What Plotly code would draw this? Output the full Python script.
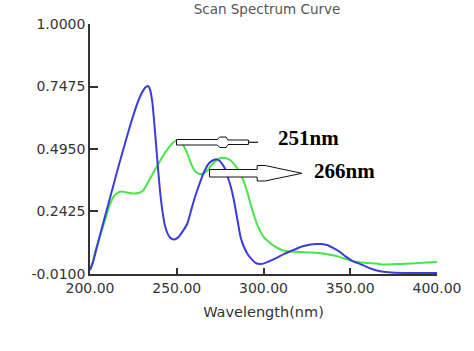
import plotly.graph_objects as go

# ---- data ----
blue_nm = [200.0, 201.7, 203.4, 205.6, 208.4, 211.2, 214.0, 216.8, 219.6, 222.4, 225.2, 228.0,
           230.8, 232.5, 233.6, 234.7, 235.9, 237.0, 238.1, 239.2, 240.3, 241.5, 243.1, 244.8,
           246.5, 248.7, 251.0, 253.2, 256.0, 258.3, 260.5, 263.3, 265.5, 267.8, 270.0, 272.3,
           273.9, 275.6, 277.3, 279.0, 281.2, 282.9, 284.6, 286.8, 288.5, 290.8, 293.0, 295.2,
           298.0, 300.8, 304.8, 308.7, 312.0, 316.0, 319.3, 323.2, 327.2, 330.5, 333.3, 336.7,
           340.1, 344.0, 347.3, 351.3, 355.2, 359.1, 362.5, 368.1, 373.7, 384.9, 400.0]
blue_abs = [0.006, 0.038, 0.083, 0.143, 0.216, 0.289, 0.362, 0.434, 0.503, 0.572, 0.636, 0.693,
            0.733, 0.747, 0.749, 0.733, 0.685, 0.604, 0.511, 0.418, 0.329, 0.257, 0.188, 0.152,
            0.135, 0.129, 0.139, 0.160, 0.192, 0.248, 0.301, 0.358, 0.398, 0.430, 0.446, 0.453,
            0.451, 0.440, 0.422, 0.390, 0.341, 0.289, 0.224, 0.139, 0.103, 0.071, 0.051, 0.036,
            0.030, 0.034, 0.046, 0.059, 0.071, 0.083, 0.093, 0.103, 0.109, 0.111, 0.111, 0.107,
            0.095, 0.079, 0.061, 0.042, 0.032, 0.020, 0.010, 0.000, -0.004, -0.006, -0.006]

green_nm = [200.0, 201.7, 202.8, 204.5, 205.6, 207.3, 209.0, 210.6, 212.3, 214.0, 215.7, 217.9,
            220.2, 222.4, 225.2, 228.0, 230.3, 231.9, 234.2, 236.4, 238.7, 240.9, 243.1, 245.4,
            247.6, 249.3, 251.0, 252.7, 254.3, 256.0, 257.7, 259.4, 261.1, 263.3, 265.5, 267.8,
            270.0, 272.3, 274.5, 277.3, 279.6, 281.8, 284.0, 286.3, 288.5, 290.8, 292.4, 294.1,
            295.8, 297.5, 299.7, 302.5, 305.3, 308.1, 311.5, 315.4, 320.4, 326.1, 331.7, 337.3,
            342.9, 348.5, 354.1, 359.7, 365.3, 368.1, 370.9, 376.5, 384.9, 393.3, 400.0]
green_abs = [0.006, 0.038, 0.075, 0.115, 0.139, 0.176, 0.216, 0.253, 0.285, 0.307, 0.317, 0.323,
             0.321, 0.317, 0.315, 0.317, 0.325, 0.341, 0.370, 0.398, 0.426, 0.453, 0.479, 0.501,
             0.519, 0.527, 0.531, 0.523, 0.503, 0.479, 0.446, 0.418, 0.402, 0.394, 0.396, 0.410,
             0.430, 0.446, 0.457, 0.459, 0.455, 0.444, 0.426, 0.402, 0.366, 0.317, 0.277, 0.236,
             0.200, 0.172, 0.143, 0.123, 0.107, 0.095, 0.085, 0.081, 0.079, 0.077, 0.075, 0.069,
             0.061, 0.048, 0.038, 0.034, 0.032, 0.028, 0.028, 0.030, 0.032, 0.036, 0.038]

x_ticks = [200, 250, 300, 350, 400]
x_tick_text = ["200.00", "250.00", "300.00", "350.00", "400.00"]
y_ticks = [1.0, 0.7475, 0.495, 0.2425, -0.01]
y_tick_text = ["1.0000", "0.7475", "0.4950", "0.2425", "-0.0100"]
peak_labels = ["251nm", "266nm"]

# ---- layout geometry (pixels) ----
W, H = 474, 351
L, R, T, B = 90, 27, 24, 77
PW, PH = W - L - R, H - T - B


def p(x, y):
    return f"{(x - L) / PW:.5f},{(H - B - y) / PH:.5f}"


def path(pts):
    return "M" + " L".join(p(x, y) for x, y in pts) + " Z"


fig = go.Figure()
fig.add_trace(go.Scatter(x=green_nm, y=green_abs, mode="lines",
                         line=dict(color="#46e646", width=2, shape="spline", smoothing=0.6),
                         showlegend=False, hoverinfo="skip"))
fig.add_trace(go.Scatter(x=blue_nm, y=blue_abs, mode="lines",
                         line=dict(color="#3c3cdc", width=2, shape="spline", smoothing=0.6),
                         showlegend=False, hoverinfo="skip"))

arrow1 = [(179, 139.5), (221, 139.5), (223.5, 137), (230, 137), (232, 140), (253, 140),
          (253, 144.5), (232, 144.5), (230, 147.5), (223.5, 147.5), (221, 145), (179, 145)]
arrow2 = [(213, 169.5), (262, 169.5), (262, 165.5), (270, 165.5), (308, 173.3), (270, 181),
          (262, 181), (262, 177), (213, 177)]

shapes = [
    dict(type="path", xref="paper", yref="paper", path=path(arrow1),
         line=dict(color="#111", width=1), fillcolor="white", layer="above"),
    dict(type="line", xref="paper", yref="paper",
         x0=(253 - L) / PW, x1=(263 - L) / PW, y0=(H - B - 142.3) / PH, y1=(H - B - 142.3) / PH,
         line=dict(color="#111", width=1.2)),
    dict(type="path", xref="paper", yref="paper", path=path(arrow2),
         line=dict(color="#111", width=1), fillcolor="white", layer="above"),
]

annotations = [
    dict(text=f"<b>{peak_labels[0]}</b>", xref="paper", yref="paper",
         x=(281 - L) / PW, y=(H - B - 138) / PH, xanchor="left", yanchor="middle",
         showarrow=False, font=dict(family="Liberation Serif", size=21, color="black")),
    dict(text=f"<b>{peak_labels[1]}</b>", xref="paper", yref="paper",
         x=(318 - L) / PW, y=(H - B - 171) / PH, xanchor="left", yanchor="middle",
         showarrow=False, font=dict(family="Liberation Serif", size=21, color="black")),
]

fig.update_layout(
    width=W, height=H,
    margin=dict(l=L, r=R, t=T, b=B, pad=0),
    paper_bgcolor="white", plot_bgcolor="white",
    font=dict(family="DejaVu Sans", size=14, color="#333"),
    title=dict(text="Scan Spectrum Curve", x=267 / W, xref="container", xanchor="center",
               y=1 - 9 / H, yref="container", yanchor="middle",
               font=dict(family="DejaVu Sans", size=13.5, color="#555")),
    shapes=shapes,
    annotations=annotations,
)
fig.update_xaxes(range=[200, 400], tickvals=x_ticks, ticktext=x_tick_text,
                 showline=True, linecolor="#333", linewidth=1.5, ticks="inside", ticklen=6,
                 tickcolor="#333", tickwidth=1.5, showgrid=False, zeroline=False,
                 title=dict(text="Wavelength(nm)", standoff=12,
                            font=dict(family="DejaVu Sans", size=14.5, color="#333")))
fig.update_yaxes(range=[-0.0101, 1.0001], tickvals=y_ticks, ticktext=y_tick_text,
                 showline=True, linecolor="#333", linewidth=1.5, ticks="inside", ticklen=8,
                 tickcolor="#333", tickwidth=1.5, showgrid=False, zeroline=False)

fig.write_html("out.html")
